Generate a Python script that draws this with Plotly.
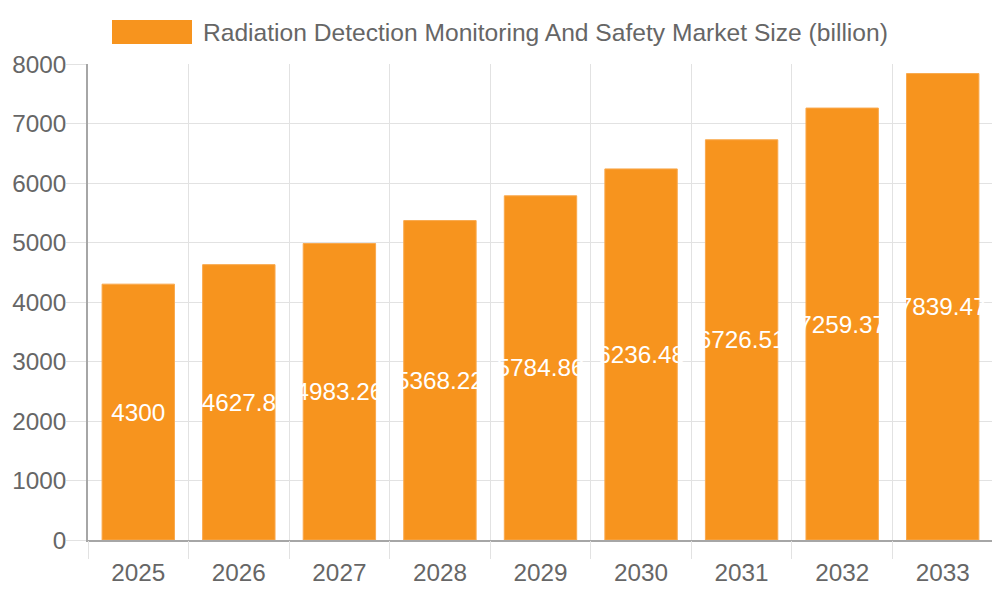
import plotly.graph_objects as go

years = ["2025", "2026", "2027", "2028", "2029", "2030", "2031", "2032", "2033"]
market_size = [4300, 4627.8, 4983.26, 5368.22, 5784.86, 6236.48, 6726.51, 7259.37, 7839.47]
series_name = "Radiation Detection Monitoring And Safety Market Size (billion)"

bar_color = "#F7941E"
grid = "#e2e2e2"
axis_gray = "#a6a6a6"
font_gray = "#666666"
fnt = "Liberation Sans, Arial, sans-serif"
fs = 24.3

xs = list(range(len(years)))
labels = [f"{v:g}" for v in market_size]

fig = go.Figure()
fig.add_trace(go.Bar(
    x=xs, y=market_size, name=series_name,
    marker=dict(color=bar_color, line=dict(color="#f9a94d", width=1)),
    text=labels, textposition="inside", insidetextanchor="middle",
    textangle=0, textfont=dict(color="white", size=fs, family=fnt),
    width=0.72, showlegend=False,
))
# invisible trace so the category-boundary axis gets drawn
fig.add_trace(go.Scatter(x=[-0.5, len(years) - 0.5], y=[0, 0], xaxis="x2",
                         mode="markers", marker=dict(opacity=0),
                         hoverinfo="skip", showlegend=False))

# page body adds 8px, so the figure is a bit smaller than the window
fig.update_layout(
    width=992, height=592,
    margin=dict(l=80, r=7, t=56, b=60, autoexpand=False),
    paper_bgcolor="white", plot_bgcolor="white",
    font=dict(family=fnt, color=font_gray, size=fs),
    uniformtext=dict(minsize=fs, mode="show"),
    xaxis=dict(
        range=[-0.5, len(years) - 0.5], tickvals=xs, ticktext=years,
        showgrid=False, ticks="outside", ticklen=10, tickcolor="rgba(0,0,0,0)",
        showline=True, linecolor=axis_gray, automargin=False,
        linewidth=1.5, tickfont=dict(size=fs, color=font_gray),
        zeroline=False,
    ),
    xaxis2=dict(
        overlaying="x", side="bottom", range=[-0.5, len(years) - 0.5],
        tickvals=[i - 0.5 for i in range(len(years) + 1)],
        showticklabels=False, showgrid=True, gridcolor=grid, gridwidth=1,
        ticks="outside", ticklen=18, tickcolor=grid, zeroline=False,
        automargin=False,
    ),
    yaxis=dict(
        range=[0, 8000], dtick=1000, showgrid=True, gridcolor=grid,
        ticks="outside", ticklen=20, tickcolor=grid, showline=True,
        linecolor=axis_gray, linewidth=1.5, zeroline=False, automargin=False,
        ticklabelstandoff=-5,
        tickfont=dict(size=fs, color=font_gray),
    ),
    shapes=[dict(type="rect", xref="paper", yref="paper",
                 x0=(112 - 88) / 905, x1=(192 - 88) / 905,
                 y0=(540 - 44) / 476, y1=(540 - 20) / 476,
                 fillcolor=bar_color, line=dict(width=0))],
    annotations=[dict(text=series_name, xref="paper", yref="paper",
                      x=(201 - 88) / 905, y=(540 - 32) / 476,
                      xanchor="left", yanchor="middle", showarrow=False,
                      font=dict(size=24.6, color=font_gray))],
)

fig.write_html("out.html")
